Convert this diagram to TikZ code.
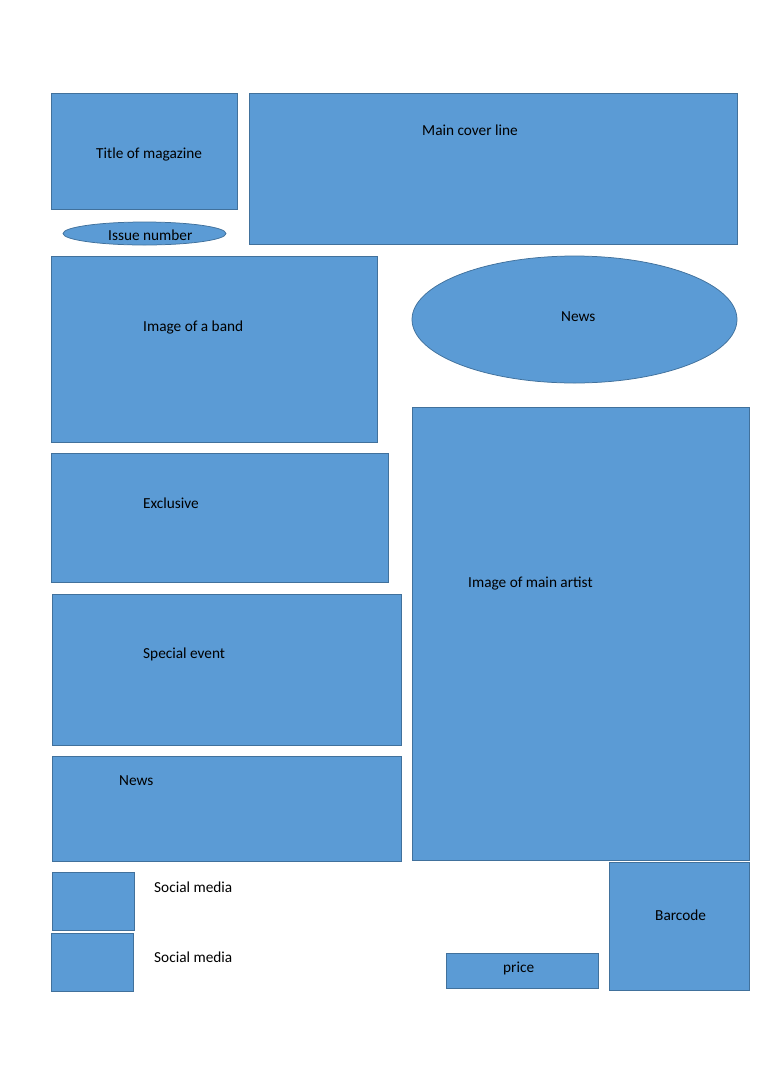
\documentclass[tikz,border=0pt]{standalone}
\usepackage{fontspec}
\setmainfont{Carlito}
\usetikzlibrary{positioning,shapes.geometric}
\definecolor{boxfill}{HTML}{5B9BD5}
\definecolor{boxline}{HTML}{41719C}

\begin{document}
\begin{tikzpicture} [
                x=1pt, y=-1pt,
                pagebox/.style={
                    rectangle,
                    draw=boxline,
                    fill=boxfill,
                    line width=0.75pt,
                    anchor=north west,
                    inner sep=0pt
                },
                pageoval/.style={
                    ellipse,
                    draw=boxline,
                    fill=boxfill,
                    line width=0.75pt,
                    inner sep=0pt
                },
                boxtext/.style={
                    anchor=west,
                    inner sep=0pt,
                    text=black,
                    font=\fontsize{15.3}{17}\selectfont
                }
            ]
                \useasboundingbox (0,0) rectangle (768,1088);

                % left column
                \node[pagebox, minimum width=186pt, minimum height=116pt]   (title)      at (51,93)    {};
                \node[pageoval, minimum width=163pt, minimum height=23pt]   (issue)      at (144.5,233.5) {};
                \node[pagebox, minimum width=326pt, minimum height=186pt]   (band)       at (51,256)   {};
                \node[pagebox, minimum width=337pt, minimum height=129pt]   (exclusive)  at (51,453)   {};
                \node[pagebox, minimum width=349pt, minimum height=151pt]   (special)    at (52,594)   {};
                \node[pagebox, minimum width=349pt, minimum height=105pt]   (newsbox)    at (52,756)   {};
                \node[pagebox, minimum width=82pt, minimum height=58pt]     (social0)    at (52,872)   {};
                \node[pagebox, minimum width=82pt, minimum height=58pt]     (social1)    at (51,933)   {};

                % right column
                \node[pagebox, minimum width=488pt, minimum height=151pt]   (cover)      at (249,93)   {};
                \node[pageoval, minimum width=325pt, minimum height=127pt]  (newsoval)   at (574.5,319.5) {};
                \node[pagebox, minimum width=337pt, minimum height=453pt]   (artist)     at (412,407)  {};
                \node[pagebox, minimum width=152pt, minimum height=35pt]    (price)      at (446,953)  {};
                \node[pagebox, minimum width=140pt, minimum height=128pt]   (barcode)    at (609,862)  {};

                % labels
                \node[boxtext]  (titletext)     at (96,154)     {Title of magazine};
                \node[boxtext]  (issuetext)     at (108,235)    {Issue number};
                \node[boxtext]  (bandtext)      at (143,327)    {Image of a band};
                \node[boxtext]  (exclusivetext) at (143,503)    {Exclusive};
                \node[boxtext]  (specialtext)   at (143,654)    {Special event};
                \node[boxtext]  (newsboxtext)   at (119,781)    {News};
                \node[boxtext]  (social0text)   at (154,887)    {Social media};
                \node[boxtext]  (social1text)   at (154,957)    {Social media};
                \node[boxtext]  (covertext)     at (422,130)    {Main cover line};
                \node[boxtext]  (newsovaltext)  at (561,317)    {News};
                \node[boxtext]  (artisttext)    at (468,584)    {Image of main artist};
                \node[boxtext]  (pricetext)     at (503,968)    {price};
                \node[boxtext]  (barcodetext)   at (655,915)    {Barcode};

            \end{tikzpicture}
\end{document}
